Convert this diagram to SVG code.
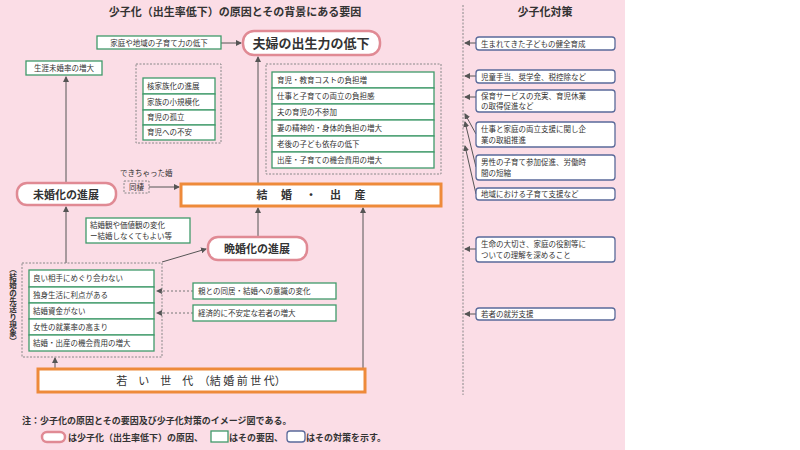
<svg xmlns="http://www.w3.org/2000/svg" width="800" height="450" viewBox="0 0 800 450">
<defs>
<marker id="ar" markerWidth="6" markerHeight="6" refX="5" refY="3" orient="auto" markerUnits="userSpaceOnUse"><path d="M0,0 L6,3 L0,6 z" fill="#555"/></marker>
<style>
text{font-family:"Noto Sans CJK JP","Noto Sans",sans-serif;fill:#333}
.s{font-size:7.5px}
.g{fill:#fff;stroke:#3f9a6a;stroke-width:1.3}
.b{fill:#fff;stroke:#5a6a9a;stroke-width:1.3}
.p{fill:#fff;stroke:#e08a94;stroke-width:2.5}
.o{fill:#fff;stroke:#ee8a3a;stroke-width:3}
.d{fill:none;stroke:#888;stroke-width:1;stroke-dasharray:2,1.5}
.l{stroke:#555;stroke-width:1;fill:none}
.dl{stroke:#777;stroke-width:1;fill:none;stroke-dasharray:2,2}
.t{font-size:13px;font-weight:bold}
.h{font-size:11px;font-weight:bold}
.v{font-size:7.5px;font-weight:bold}
</style>
</defs>
<rect width="800" height="450" fill="#fff"/>
<rect width="625" height="450" fill="#fbdde6"/>
<line x1="463" y1="5" x2="463" y2="395" class="d"/>
<text x="235" y="16" class="h" text-anchor="middle">少子化（出生率低下）の原因とその背景にある要因</text>
<text x="545" y="16" class="h" text-anchor="middle">少子化対策</text>

<g id="connectors">
<line x1="221" y1="43" x2="241" y2="43" class="l" marker-end="url(#ar)"/>
<line x1="258" y1="184" x2="258" y2="57" class="l" marker-end="url(#ar)"/>
<line x1="66" y1="182" x2="66" y2="77" class="l" marker-end="url(#ar)"/>
<line x1="66" y1="263" x2="66" y2="207" class="l" marker-end="url(#ar)"/>
<line x1="149" y1="187" x2="179" y2="187" class="l" marker-end="url(#ar)"/>
<line x1="258" y1="237" x2="258" y2="208" class="l" marker-end="url(#ar)"/>
<line x1="162" y1="262" x2="206" y2="249" class="l" marker-end="url(#ar)"/>
<line x1="193" y1="291" x2="157" y2="291" class="dl" marker-end="url(#ar)"/>
<line x1="193" y1="313" x2="157" y2="313" class="dl" marker-end="url(#ar)"/>
<line x1="363" y1="368" x2="363" y2="208" class="l" marker-end="url(#ar)"/>
<line x1="55" y1="368" x2="55" y2="358" class="l" marker-end="url(#ar)"/>
<line x1="476" y1="43" x2="465" y2="43" class="l" marker-end="url(#ar)"/>
<line x1="476" y1="76" x2="465" y2="76" class="l" marker-end="url(#ar)"/>
<line x1="476" y1="97" x2="465" y2="97" class="l" marker-end="url(#ar)"/>
<line x1="476" y1="134" x2="465" y2="114" class="l" marker-end="url(#ar)"/>
<line x1="476" y1="167" x2="465" y2="122" class="l" marker-end="url(#ar)"/>
<line x1="476" y1="194" x2="465" y2="146" class="l" marker-end="url(#ar)"/>
<line x1="476" y1="249" x2="465" y2="249" class="l" marker-end="url(#ar)"/>
<line x1="476" y1="314" x2="465" y2="314" class="l" marker-end="url(#ar)"/>
</g>

<g id="n-katei"><rect x="97" y="36" width="124" height="13" class="g"/><text x="159" y="45.5" class="s" text-anchor="middle">家庭や地域の子育て力の低下</text></g>
<g id="n-fufu"><rect x="243" y="31" width="137" height="24" rx="11" class="p"/><text x="311" y="48" class="t" text-anchor="middle">夫婦の出生力の低下</text></g>
<g id="n-shogai"><rect x="26" y="61" width="76" height="14" class="g"/><text x="64" y="71" class="s" text-anchor="middle">生涯未婚率の増大</text></g>
<g id="n-kaku">
<rect x="136" y="64" width="85" height="79" class="d"/>
<rect x="143" y="78" width="72" height="16" class="g"/><text x="147" y="89" class="s">核家族化の進展</text>
<rect x="143" y="94" width="72" height="16" class="g"/><text x="147" y="105" class="s">家族の小規模化</text>
<rect x="143" y="110" width="72" height="15" class="g"/><text x="147" y="120" class="s">育児の孤立</text>
<rect x="143" y="125" width="72" height="15" class="g"/><text x="147" y="135" class="s">育児への不安</text>
</g>
<g id="n-ikuji">
<rect x="266" y="64" width="175" height="110" class="d"/>
<rect x="272" y="72" width="162" height="16" class="g"/><text x="277" y="83" class="s">育児・教育コストの負担増</text>
<rect x="272" y="88" width="162" height="16" class="g"/><text x="277" y="99" class="s">仕事と子育ての両立の負担感</text>
<rect x="272" y="104" width="162" height="16" class="g"/><text x="277" y="115" class="s">夫の育児の不参加</text>
<rect x="272" y="120" width="162" height="16" class="g"/><text x="277" y="131" class="s">妻の精神的・身体的負担の増大</text>
<rect x="272" y="136" width="162" height="16" class="g"/><text x="277" y="147" class="s">老後の子ども依存の低下</text>
<rect x="272" y="152" width="162" height="16" class="g"/><text x="277" y="163" class="s">出産・子育ての機会費用の増大</text>
</g>
<g id="n-dekichatta"><text x="120" y="176" class="s">できちゃった婚</text><rect x="124" y="181" width="25" height="12" class="d"/><text x="136.5" y="190" class="s" text-anchor="middle">同棲</text></g>
<g id="n-mikon"><rect x="17" y="183" width="99" height="22" rx="10" class="p"/><text x="66" y="199" class="h" text-anchor="middle">未婚化の進展</text></g>
<g id="n-kekkon"><rect x="181" y="184" width="260" height="22" class="o"/><text x="311" y="199" class="h" text-anchor="middle" font-weight="normal">結　 婚　 ・　 出　 産</text></g>
<g id="n-kachikan"><rect x="86" y="218" width="104" height="25" class="g"/><text x="90" y="228" class="s">結婚観や価値観の変化</text><text x="90" y="239" class="s">ー結婚しなくてもよい等</text></g>
<g id="n-bankon"><rect x="208" y="237" width="99" height="23" rx="10" class="p"/><text x="257" y="253" class="h" text-anchor="middle">晩婚化の進展</text></g>
<g id="n-yoin">
<rect x="22" y="263" width="140" height="94" class="d"/>
<rect x="29" y="270" width="125" height="17" class="g"/><text x="33" y="281" class="s">良い相手にめぐり会わない</text>
<rect x="29" y="287" width="125" height="16" class="g"/><text x="33" y="298" class="s">独身生活に利点がある</text>
<rect x="29" y="303" width="125" height="16" class="g"/><text x="33" y="314" class="s">結婚資金がない</text>
<rect x="29" y="319" width="125" height="16" class="g"/><text x="33" y="330" class="s">女性の就業率の高まり</text>
<rect x="29" y="335" width="125" height="16" class="g"/><text x="33" y="346" class="s">結婚・出産の機会費用の増大</text>
</g>
<g id="n-sakiokuri"><text class="v" text-anchor="middle"><tspan x="13" y="272">︵</tspan><tspan x="13" y="280">結</tspan><tspan x="13" y="288">婚</tspan><tspan x="13" y="296">の</tspan><tspan x="13" y="304">先</tspan><tspan x="13" y="312">送</tspan><tspan x="13" y="320">り</tspan><tspan x="13" y="328">現</tspan><tspan x="13" y="336">象</tspan><tspan x="13" y="344">︶</tspan></text></g>
<g id="n-oya"><rect x="193" y="283" width="143" height="16" class="g"/><text x="198" y="294" class="s">親との同居・結婚への意識の変化</text></g>
<g id="n-keizai"><rect x="193" y="305" width="143" height="16" class="g"/><text x="198" y="316" class="s">経済的に不安定な若者の増大</text></g>
<g id="n-wakai"><rect x="38" y="369" width="327" height="23" class="o"/><text x="201" y="385" font-size="11px" text-anchor="middle">若　い　世　代　（結 婚 前 世 代）</text></g>

<g id="n-r1"><rect x="476" y="37" width="139" height="13" rx="3" class="b"/><text x="481" y="46.5" class="s">生まれてきた子どもの健全育成</text></g>
<g id="n-r2"><rect x="476" y="70" width="139" height="13" rx="3" class="b"/><text x="481" y="79.5" class="s">児童手当、奨学金、税控除など</text></g>
<g id="n-r3"><rect x="476" y="90" width="139" height="22" rx="3" class="b"/><text x="481" y="99" class="s">保育サービスの充実、育児休業</text><text x="481" y="109" class="s">の取得促進など</text></g>
<g id="n-r4"><rect x="476" y="122" width="139" height="25" rx="3" class="b"/><text x="481" y="132" class="s">仕事と家庭の両立支援に関し企</text><text x="481" y="143" class="s">業の取組推進</text></g>
<g id="n-r5"><rect x="476" y="155" width="139" height="25" rx="3" class="b"/><text x="481" y="165" class="s">男性の子育て参加促進、労働時</text><text x="481" y="176" class="s">間の短縮</text></g>
<g id="n-r6"><rect x="476" y="188" width="139" height="12" rx="3" class="b"/><text x="481" y="197" class="s">地域における子育て支援など</text></g>
<g id="n-r7"><rect x="476" y="237" width="139" height="25" rx="3" class="b"/><text x="481" y="247" class="s">生命の大切さ、家庭の役割等に</text><text x="481" y="258" class="s">ついての理解を深めること</text></g>
<g id="n-r8"><rect x="476" y="308" width="139" height="12" rx="3" class="b"/><text x="481" y="317" class="s">若者の就労支援</text></g>

<g id="legend">
<text x="22" y="424" font-size="9px" font-weight="bold">注：少子化の原因とその要因及び少子化対策のイメージ図である。</text>
<rect x="42" y="432" width="23" height="10" rx="5" class="p" stroke-width="1.5"/>
<text x="68" y="441" font-size="9px" font-weight="bold">は少子化（出生率低下）の原因、</text>
<rect x="211" y="431" width="17" height="11" class="g"/>
<text x="229" y="441" font-size="9px" font-weight="bold">はその要因、</text>
<rect x="287" y="431" width="18" height="11" rx="3" class="b"/>
<text x="306" y="441" font-size="9px" font-weight="bold">はその対策を示す。</text>
</g>
</svg>
